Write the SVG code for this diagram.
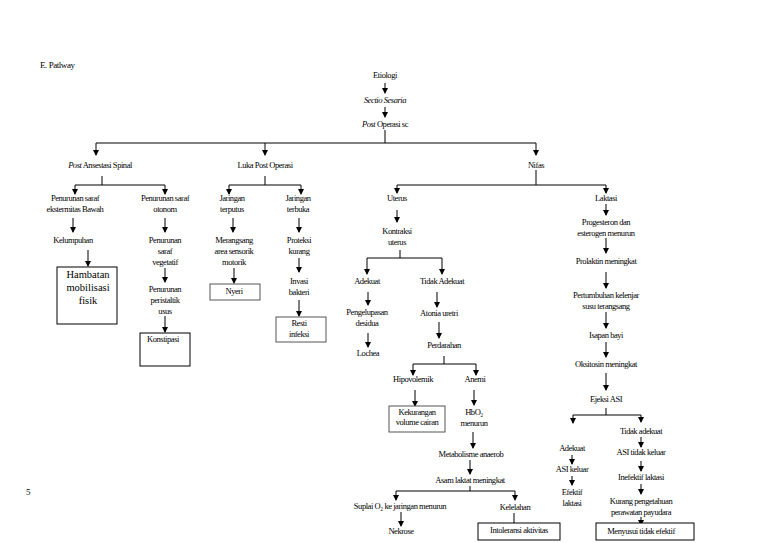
<svg xmlns="http://www.w3.org/2000/svg" width="768" height="543" viewBox="0 0 768 543">
<defs><marker id="a" markerWidth="6" markerHeight="6" refX="5" refY="3" orient="auto" markerUnits="userSpaceOnUse" viewBox="0 0 6 6"><path d="M0,0 L6,3 L0,6 z" fill="#000"/></marker></defs>
<style>
text{font-family:"Liberation Serif",serif;font-size:8.5px;letter-spacing:-0.45px;text-anchor:middle;fill:#000}
.i{font-style:italic}
.big{font-size:10.5px;letter-spacing:0}
line,polyline{stroke:#000;stroke-width:1;fill:none}
.ar{marker-end:url(#a)}
.bx{fill:#fff;stroke:#000;stroke-width:1}
.g{stroke:#555}
</style>
<text x="40" y="68" style="text-anchor:start;font-size:9px">E.  Patlway</text>
<text x="28" y="495" style="font-size:9px">5</text>
<g id="connectors">
<line class="ar" x1="385" y1="83" x2="385" y2="93"/>
<line class="ar" x1="385" y1="107" x2="385" y2="117"/>
<line x1="385" y1="130" x2="385" y2="143"/>
<line x1="96" y1="143" x2="536" y2="143"/>
<line class="ar" x1="96" y1="143" x2="96" y2="155"/>
<line class="ar" x1="265" y1="143" x2="265" y2="155"/>
<line class="ar" x1="536" y1="143" x2="536" y2="155"/>
<line x1="102" y1="176" x2="102" y2="185"/><line x1="75" y1="185" x2="165" y2="185"/>
<line class="ar" x1="75" y1="185" x2="75" y2="194"/><line class="ar" x1="165" y1="185" x2="165" y2="194"/>
<line class="ar" x1="73" y1="218" x2="73" y2="232"/><line class="ar" x1="88" y1="250" x2="88" y2="266"/>
<line class="ar" x1="165" y1="218" x2="165" y2="232"/><line class="ar" x1="165" y1="268" x2="165" y2="282"/><line class="ar" x1="165" y1="316" x2="165" y2="332"/>
<line x1="265" y1="176" x2="265" y2="185"/><line x1="229" y1="185" x2="301" y2="185"/>
<line class="ar" x1="229" y1="185" x2="229" y2="194"/><line class="ar" x1="301" y1="185" x2="301" y2="194"/>
<line class="ar" x1="233" y1="218" x2="233" y2="232"/><line class="ar" x1="234" y1="268" x2="234" y2="283"/>
<line class="ar" x1="299" y1="218" x2="299" y2="232"/><line class="ar" x1="299" y1="258" x2="299" y2="272"/><line class="ar" x1="299" y1="300" x2="299" y2="316"/>
<line x1="536" y1="170" x2="536" y2="185"/><line x1="397" y1="185" x2="606" y2="185"/>
<line class="ar" x1="397" y1="185" x2="397" y2="193"/><line class="ar" x1="606" y1="185" x2="606" y2="193"/>
<line class="ar" x1="397" y1="210" x2="397" y2="222"/>
<line x1="400" y1="250" x2="400" y2="258"/><line x1="367" y1="258" x2="442" y2="258"/>
<line class="ar" x1="367" y1="258" x2="367" y2="274"/><line class="ar" x1="442" y1="258" x2="442" y2="274"/>
<line class="ar" x1="368" y1="292" x2="368" y2="305"/><line class="ar" x1="368" y1="333" x2="368" y2="347"/>
<line class="ar" x1="437" y1="292" x2="437" y2="307"/><line class="ar" x1="439" y1="322" x2="439" y2="338"/>
<line x1="444" y1="356" x2="444" y2="364"/><line x1="413" y1="364" x2="476" y2="364"/>
<line class="ar" x1="413" y1="364" x2="413" y2="375"/><line class="ar" x1="476" y1="364" x2="476" y2="375"/>
<line class="ar" x1="415" y1="390" x2="415" y2="406"/><line class="ar" x1="474" y1="390" x2="474" y2="405"/>
<line class="ar" x1="473" y1="432" x2="473" y2="448"/><line class="ar" x1="470" y1="460" x2="470" y2="474"/>
<line x1="470" y1="486" x2="470" y2="491"/><line x1="396" y1="491" x2="515" y2="491"/>
<line class="ar" x1="396" y1="491" x2="396" y2="500"/><line class="ar" x1="515" y1="491" x2="515" y2="500"/>
<line class="ar" x1="401" y1="512" x2="401" y2="526"/><line x1="514" y1="513" x2="514" y2="528"/>
<line class="ar" x1="606" y1="204" x2="606" y2="215"/><line class="ar" x1="606" y1="238" x2="606" y2="253"/>
<line class="ar" x1="606" y1="272" x2="606" y2="288"/><line class="ar" x1="606" y1="312" x2="606" y2="328"/>
<line class="ar" x1="606" y1="342" x2="606" y2="357"/><line class="ar" x1="606" y1="373" x2="606" y2="390"/>
<line x1="606" y1="408" x2="606" y2="415"/><line x1="573" y1="415" x2="641" y2="415"/>
<line class="ar" x1="573" y1="415" x2="573" y2="423"/><line class="ar" x1="641" y1="415" x2="641" y2="422"/>
<line class="ar" x1="572" y1="455" x2="572" y2="464"/><line class="ar" x1="572" y1="476" x2="572" y2="485"/>
<line class="ar" x1="641" y1="437" x2="641" y2="447"/><line class="ar" x1="641" y1="461" x2="641" y2="471"/>
<line class="ar" x1="641" y1="484" x2="641" y2="494"/><line class="ar" x1="641" y1="517" x2="641" y2="525"/>
</g>
<g id="top"><text x="385" y="78">Etiologi</text><text x="385" y="103" class="i">Sectio Sesaria</text><text x="385" y="127"><tspan class="i">Post</tspan> Operasi sc</text></g>
<g id="spinal"><text x="100" y="168"><tspan class="i">Post</tspan> Ansestasi Spinal</text>
<text x="75" y="201">Penurunan saraf</text><text x="75" y="212">ekstermitas Bawah</text>
<text x="165" y="201">Penurunan saraf</text><text x="165" y="212">otonom</text>
<text x="73" y="243">Kelumpuhan</text>
<rect class="bx" x="57" y="267" width="60" height="57"/><text class="big" x="88" y="278">Hambatan</text><text class="big" x="88" y="291">mobilisasi</text><text class="big" x="88" y="304">fisik</text>
<text x="165" y="243">Penurunan</text><text x="165" y="254">saraf</text><text x="165" y="265">vegetatif</text>
<text x="165" y="292">Penurunan</text><text x="165" y="303">peristaltik</text><text x="165" y="314">usus</text>
<rect class="bx" x="140" y="333" width="50" height="33"/><text x="163" y="342">Konstipasi</text></g>
<g id="luka"><text x="265" y="168">Luka Post Operasi</text>
<text x="232" y="201">Jaringan</text><text x="232" y="212">terputus</text>
<text x="298" y="201">Jaringan</text><text x="298" y="212">terbuka</text>
<text x="234" y="243">Merangsang</text><text x="234" y="254">area sensorik</text><text x="234" y="265">motorik</text>
<rect class="bx g" x="210" y="284" width="50" height="16"/><text x="234" y="294">Nyeri</text>
<text x="299" y="243">Proteksi</text><text x="299" y="254">kurang</text>
<text x="299" y="284">Invasi</text><text x="299" y="295">bakteri</text>
<rect class="bx g" x="276" y="317" width="50" height="25"/><text x="299" y="326">Resti</text><text x="299" y="337">infeksi</text></g>
<g id="nifas"><text x="536" y="168">Nifas</text>
<text x="397" y="201">Uterus</text><text x="397" y="234">Kontraksi</text><text x="397" y="245">uterus</text>
<text x="367" y="284">Adekuat</text><text x="442" y="284">Tidak Adekuat</text>
<text x="367" y="315">Pengelupasan</text><text x="367" y="326">desidua</text><text x="368" y="356">Lochea</text>
<text x="439" y="316">Atonia uretri</text><text x="444" y="348">Perdarahan</text>
<text x="413" y="382">Hipovolemik</text><text x="475" y="382">Anemi</text>
<rect class="bx g" x="389" y="406" width="56" height="26"/><text x="417" y="415">Kekurangan</text><text x="417" y="425">volume cairan</text>
<text x="474" y="415">HbO₂</text><text x="474" y="426">menurun</text>
<text x="471" y="457">Metabolisme anaerob</text><text x="470" y="483">Asam  laktat meningkat</text>
<text x="400" y="509">Suplai O₂ ke jaringan menurun</text><text x="515" y="510">Kelelahan</text>
<text x="401" y="534">Nekrose</text>
<rect class="bx" x="478" y="523" width="82" height="17"/><text x="519" y="533">Intoleransi aktivitas</text></g>
<g id="laktasi"><text x="606" y="201">Laktasi</text>
<text x="606" y="225">Progesteron dan</text><text x="606" y="236">esterogen menurun</text>
<text x="606" y="264">Prolaktin meningkat</text>
<text x="606" y="298">Pertumbuhan kelenjar</text><text x="606" y="309">susu terangsang</text>
<text x="606" y="338">Isapan bayi</text><text x="606" y="367">Oksitosin meningkat</text><text x="606" y="402">Ejeksi ASI</text>
<text x="641" y="434">Tidak adekuat</text><text x="572" y="451">Adekuat</text><text x="572" y="472">ASI keluar</text>
<text x="572" y="495">Efektif</text><text x="572" y="506">laktasi</text>
<text x="641" y="455">ASI tidak keluar</text><text x="641" y="480">Inefektif  laktasi</text>
<text x="641" y="504">Kurang pengetahuan</text><text x="641" y="515">perawatan payudara</text>
<rect class="bx" x="596" y="523" width="98" height="17"/><text x="641" y="534">Menyusui tidak efektif</text></g>
</svg>
